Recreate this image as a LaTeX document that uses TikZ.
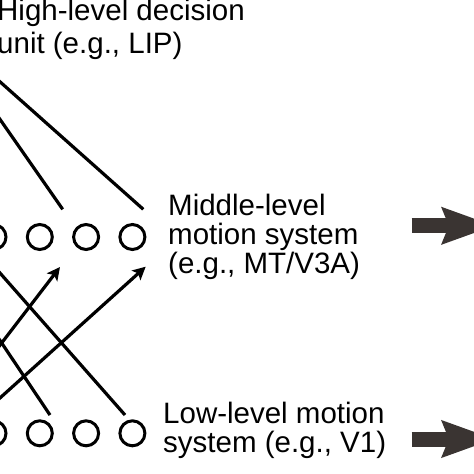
\documentclass[tikz,border=0pt]{standalone}
\usepackage{fontspec}
\setmainfont{Liberation Sans}
\usetikzlibrary{positioning,arrows.meta}
\definecolor{blockgray}{RGB}{58,52,50}

\begin{document}
\begin{tikzpicture}[x=1pt, y=-1pt,
    every node/.style={font=\fontsize{29.5}{29}\selectfont},
    unit/.style={draw, circle, line width=3pt, minimum size=25pt, inner sep=0pt, outer sep=0pt},
    caption/.style={anchor=base west, align=left, inner sep=0pt},
    link/.style={line width=3.2pt},
    feed/.style={link, -{Stealth[length=13pt, width=13pt, inset=3pt]}},
    bigarrow/.style={line width=15pt, blockgray, -{Stealth[length=52pt, width=35pt, inset=6pt]}}
]
\useasboundingbox (0,0) rectangle (474,474);
\clip (0,0) rectangle (474,474);

% captions (base = last line)
\node[caption, font=\fontsize{29.5}{32.5}\selectfont] (high) at (-3,53.3) {High-level decision\\unit (e.g., LIP)};
\node[caption] (mid) at (168,273) {Middle-level\\motion system\\(e.g., MT/V3A)};
\node[caption] (low) at (163,452) {Low-level motion\\system (e.g., V1)};

% middle-level units
\node[unit] (m0) at (-6.5,237) {};
\node[unit, right=21.3pt of m0] (m1) {};
\node[unit, right=21.3pt of m1] (m2) {};
\node[unit, right=21.3pt of m2] (m3) {};

% low-level units
\node[unit] (l0) at (-6.5,433.3) {};
\node[unit, right=21.3pt of l0] (l1) {};
\node[unit, right=21.3pt of l1] (l2) {};
\node[unit, right=21.3pt of l2] (l3) {};

% line ends
\coordinate (lip) at (-69,20.4);
\coordinate (e1) at (62.7,209.3);
\coordinate (e2) at (143.3,209.3);
\coordinate (a0) at (-40,227.6);
\coordinate (a1) at (125,415);
\coordinate (b0) at (-40,280.9);
\coordinate (b1) at (50,415);
\coordinate (c0) at (-40,397.2);
\coordinate (c1) at (60,267);
\coordinate (d0) at (-40,434);
\coordinate (d1) at (145.7,266.7);

\draw[link] (lip) -- (e1);
\draw[link] (lip) -- (e2);
\draw[link] (a0) -- (a1);
\draw[link] (b0) -- (b1);
\draw[feed] (c0) -- (c1);
\draw[feed] (d0) -- (d1);

% outputs
\coordinate (out1) at (411.7,225.8);
\coordinate (tip1) at (495,225.8);
\coordinate (out2) at (411.7,439);
\coordinate (tip2) at (495,439);
\draw[bigarrow] (out1) -- (tip1);
\draw[bigarrow] (out2) -- (tip2);
\end{tikzpicture}
\end{document}
